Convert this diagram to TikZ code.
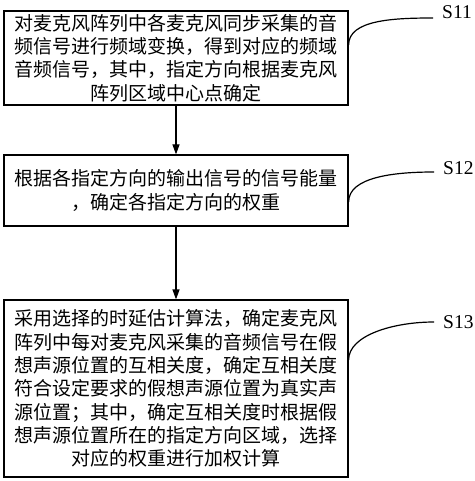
\documentclass[tikz,border=0pt]{standalone}
\usepackage{fontspec}
\setmainfont{Liberation Serif}
\newfontfamily\cjk{Noto Sans CJK SC}
\usetikzlibrary{arrows.meta}
\begin{document}
\begin{tikzpicture}[x=1pt,y=-1pt,
  box/.style={draw, line width=1.2pt, minimum width=344pt, align=center, inner sep=0pt,
    font=\cjk\fontsize{19}{23.3}\selectfont},
  flow/.style={line width=1.2pt, -{Triangle[width=7pt,length=10pt]}},
  lead/.style={line width=1.2pt},
  steplabel/.style={anchor=west, inner sep=0pt, font=\fontsize{19.5}{21}\selectfont}]
\useasboundingbox (0,0) rectangle (474,481);
\node[box, minimum height=94pt] (b1) at (176,58) {对麦克风阵列中各麦克风同步采集的音\\频信号进行频域变换，得到对应的频域\\音频信号，其中，指定方向根据麦克风\\阵列区域中心点确定};
\node[box, minimum height=71pt] (b2) at (176,190.5) {根据各指定方向的输出信号的信号能量\\，确定各指定方向的权重};
\node[box, minimum height=177pt] (b3) at (176,388.5) {采用选择的时延估计算法，确定麦克风\\阵列中每对麦克风采集的音频信号在假\\想声源位置的互相关度，确定互相关度\\符合设定要求的假想声源位置为真实声\\源位置；其中，确定互相关度时根据假\\想声源位置所在的指定方向区域，选择\\对应的权重进行加权计算};
\draw[flow] (b1) -- (b2);
\draw[flow] (b2) -- (b3);
\node[steplabel] (s1) at (442,12) {S11};
\node[steplabel] (s2) at (443,168) {S12};
\node[steplabel] (s3) at (443,322) {S13};
\draw[lead] ([yshift=13pt]b1.east) .. controls +(0,-25) and +(-40,0) .. ([xshift=-9pt,yshift=-6pt]s1.west);
\draw[lead] ([yshift=-11.5pt]b2.east) .. controls +(0,-25) and +(-40,0) .. ([xshift=-9pt,yshift=-4pt]s2.west);
\draw[lead] ([yshift=28.5pt]b3.east) .. controls +(0,-25) and +(-40,0) .. ([xshift=-9pt]s3.west);
\end{tikzpicture}
\end{document}
